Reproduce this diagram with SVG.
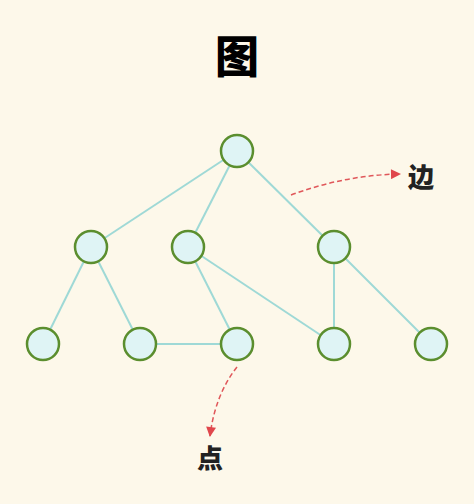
<svg xmlns="http://www.w3.org/2000/svg" width="474" height="504" viewBox="0 0 474 504">
<defs>
<marker id="ah" viewBox="0 0 10 10" refX="9" refY="5" markerWidth="11" markerHeight="10" orient="auto" markerUnits="userSpaceOnUse">
<path d="M0,0 L10,5 L0,10 z" fill="#e0474c"/>
</marker>
<style>
.edge{stroke:#9fd9d6;stroke-width:2;fill:none}
.node{fill:#dff4f5;stroke:#5b8e2e;stroke-width:2.5}
.note{stroke:#e0575a;stroke-width:1.5;fill:none;stroke-dasharray:5 3}
.lbl{font-family:"Noto Sans CJK SC","Noto Sans",sans-serif;font-weight:900;fill:#222;text-anchor:middle}
</style>
</defs>
<rect width="474" height="504" fill="#fdf8ea"/>
<text class="lbl" x="237" y="73" font-size="44" style="fill:#000">图</text>
<g id="connectors">
<line class="edge" x1="237" y1="151" x2="91" y2="247"/>
<line class="edge" x1="237" y1="151" x2="188" y2="247"/>
<line class="edge" x1="237" y1="151" x2="334" y2="247"/>
<line class="edge" x1="91" y1="247" x2="43" y2="344"/>
<line class="edge" x1="91" y1="247" x2="140" y2="344"/>
<line class="edge" x1="188" y1="247" x2="237" y2="344"/>
<line class="edge" x1="188" y1="247" x2="334" y2="344"/>
<line class="edge" x1="140" y1="344" x2="237" y2="344"/>
<line class="edge" x1="334" y1="247" x2="334" y2="344"/>
<line class="edge" x1="334" y1="247" x2="431" y2="344"/>
<path class="note" d="M291,195 Q345,175 400,174" marker-end="url(#ah)"/>
<path class="note" d="M237,367 Q215,395 210,436" marker-end="url(#ah)"/>
</g>
<g id="n0"><circle class="node" cx="237" cy="151" r="16"/></g>
<g id="n1"><circle class="node" cx="91" cy="247" r="16"/></g>
<g id="n2"><circle class="node" cx="188" cy="247" r="16"/></g>
<g id="n3"><circle class="node" cx="334" cy="247" r="16"/></g>
<g id="n4"><circle class="node" cx="43" cy="344" r="16"/></g>
<g id="n5"><circle class="node" cx="140" cy="344" r="16"/></g>
<g id="n6"><circle class="node" cx="237" cy="344" r="16"/></g>
<g id="n7"><circle class="node" cx="334" cy="344" r="16"/></g>
<g id="n8"><circle class="node" cx="431" cy="344" r="16"/></g>
<g id="label-edge"><text class="lbl" x="421" y="187" font-size="26">边</text></g>
<g id="label-vertex"><text class="lbl" x="210" y="468" font-size="26">点</text></g>
</svg>
